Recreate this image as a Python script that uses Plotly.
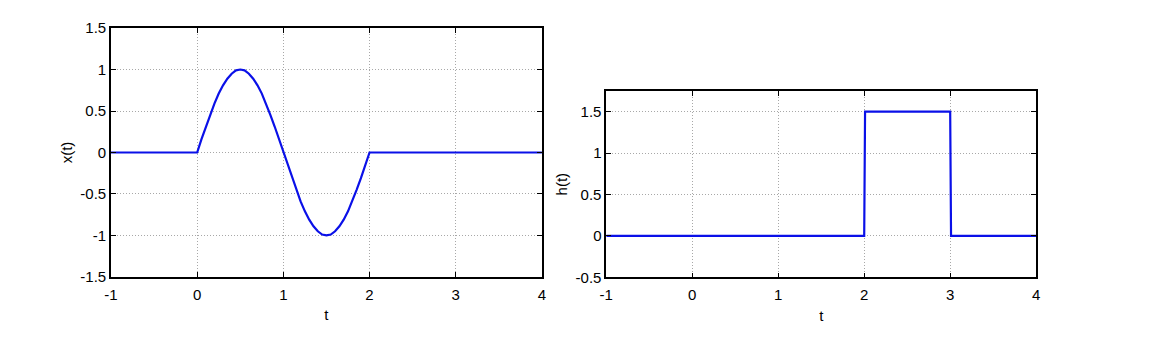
import plotly.graph_objects as go

# Left panel: x(t)
t_x = [-1.0, 0.0, 0.05, 0.1, 0.15, 0.2, 0.25, 0.3, 0.35, 0.4, 0.45, 0.5,
       0.55, 0.6, 0.65, 0.7, 0.75, 0.8, 0.85, 0.9, 0.95, 1.0,
       1.05, 1.1, 1.15, 1.2, 1.25, 1.3, 1.35, 1.4, 1.45, 1.5,
       1.55, 1.6, 1.65, 1.7, 1.75, 1.8, 1.85, 1.9, 1.95, 2.0, 4.0]
x_vals = [0.0, 0.0, 0.16, 0.31, 0.45, 0.59, 0.71, 0.81, 0.89, 0.95, 0.99, 1.0,
          0.99, 0.95, 0.89, 0.81, 0.71, 0.59, 0.45, 0.31, 0.16, 0.0,
          -0.16, -0.31, -0.45, -0.59, -0.71, -0.81, -0.89, -0.95, -0.99, -1.0,
          -0.99, -0.95, -0.89, -0.81, -0.71, -0.59, -0.45, -0.31, -0.16, 0.0, 0.0]

# Right panel: h(t)
t_h = [-1.0, 2.0, 2.01, 3.0, 3.01, 4.0]
h_vals = [0.0, 0.0, 1.5, 1.5, 0.0, 0.0]

x_ticks = [-1, 0, 1, 2, 3, 4]
x_ticklabels = ["-1", "0", "1", "2", "3", "4"]
left_yticks = [-1.5, -1, -0.5, 0, 0.5, 1, 1.5]
left_ylabels = ["-1.5", "-1", "-0.5", "0", "0.5", "1", "1.5"]
right_yticks = [-0.5, 0, 0.5, 1, 1.5]
right_ylabels = ["-0.5", "0", "0.5", "1", "1.5"]

W, H = 1162, 364
FONT = "Liberation Sans, Arial, Helvetica, sans-serif"
BLUE = "#0a10e8"

fig = go.Figure()
fig.add_trace(go.Scatter(x=t_x, y=x_vals, mode="lines", xaxis="x", yaxis="y",
                         line=dict(color=BLUE, width=2.2), showlegend=False))
fig.add_trace(go.Scatter(x=t_h, y=h_vals, mode="lines", xaxis="x2", yaxis="y2",
                         line=dict(color=BLUE, width=2.2), showlegend=False))

def ax(**kw):
    d = dict(showline=True, linecolor="black", linewidth=1.6, mirror="allticks",
             ticks="inside", ticklen=5, tickcolor="black", tickwidth=1.2,
             showgrid=True, gridcolor="#a8a8a8", griddash="1px,2px", gridwidth=1,
             zeroline=False, tickfont=dict(family=FONT, size=15, color="black"),
             title_font=dict(family=FONT, size=15, color="black"))
    d.update(kw)
    return d

fig.update_layout(
    width=W, height=H,
    margin=dict(l=0, r=0, t=0, b=0),
    paper_bgcolor="white", plot_bgcolor="white",
    font=dict(family=FONT, size=15, color="black"),
    xaxis=ax(domain=[105 / W, 540 / W], range=[-1, 4], tickvals=x_ticks,
             ticktext=x_ticklabels, anchor="y", ticklabelstandoff=3,
             title=dict(text="t", standoff=8)),
    yaxis=ax(domain=[1 - 281 / H, 1 - 20 / H], range=[-1.5, 1.5],
             tickvals=left_yticks, ticktext=left_ylabels, anchor="x",
             title=dict(text="x(t)", standoff=4)),
    xaxis2=ax(domain=[605 / W, 1039 / W], range=[-1, 4], tickvals=x_ticks,
              ticktext=x_ticklabels, anchor="y2", ticklabelstandoff=3,
              title=dict(text="t", standoff=8)),
    yaxis2=ax(domain=[1 - 281.5 / H, 1 - 86 / H], range=[-0.5, 1.75],
              tickvals=right_yticks, ticktext=right_ylabels, anchor="x2",
              title=dict(text="h(t)", standoff=4)),
)

fig.write_html("out.html")
